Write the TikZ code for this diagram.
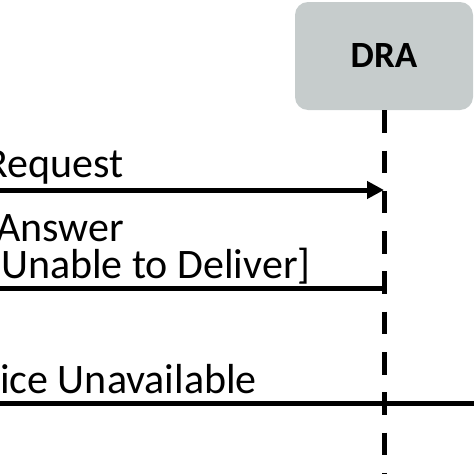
\documentclass[tikz,border=0pt]{standalone}
\usepackage{fontspec}
\setmainfont{Carlito}
\usetikzlibrary{arrows.meta}

\definecolor{boxgray}{RGB}{198,204,204}

\begin{document}
\begin{tikzpicture}[x=1pt,y=-1pt,
    entity/.style={fill=boxgray, rounded corners=13pt, minimum width=178pt, minimum height=108pt, font=\fontsize{37}{42}\selectfont\bfseries},
    lifeline/.style={line width=5pt, dash pattern=on 22.5pt off 17.8pt},
    msg/.style={line width=5pt},
    lbl/.style={anchor=base west, inner sep=0pt, font=\fontsize{42}{48}\selectfont}]
        % Page size
        \useasboundingbox (0,0) rectangle (474,474);
        \clip (0,0) rectangle (474,474);

        % DRA entity and its lifeline
        \node[entity] (dra) at (384,56) {DRA};
        \coordinate (dra-end) at (384,474);
        \draw[lifeline] (dra.south) -- (dra-end);

        % Request arrow
        \coordinate (req-from) at (0,190);
        \coordinate (req-to) at (384,190);
        \draw[msg, -{Triangle[length=17pt,width=17pt]}] (req-from) -- (req-to);
        \node[lbl] (req) at (-15,177) {Request};

        % Answer line
        \coordinate (ans-from) at (0,288);
        \coordinate (ans-to) at (384,288);
        \draw[msg] (ans-from) -- (ans-to);
        \node[lbl, text depth=0pt] (ans) at (-4,241) {Answer};
        \node[lbl, text height=24pt] (ans-code) at (-12,278) {[Unable to Deliver]};

        % Service unavailable line
        \coordinate (svc-from) at (0,403);
        \coordinate (svc-to) at (474,403);
        \draw[msg] (svc-from) -- (svc-to);
        \node[lbl] (svc) at (0,393) {ice Unavailable};
\end{tikzpicture}
\end{document}
